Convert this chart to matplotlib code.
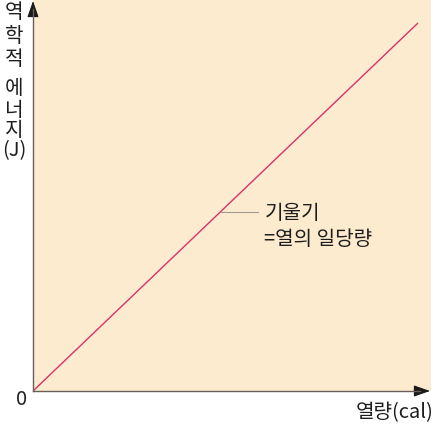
import matplotlib
matplotlib.use("Agg")
import matplotlib.pyplot as plt

plt.rcParams['font.family'] = ['Noto Sans CJK KR', 'DejaVu Sans']

heat = [0, 100]
energy = [0, 100]
y_label_chars = ["역", "학", "적", "에", "너", "지", "(J)"]
x_label = "열량(cal)"
note_lines = ["기울기", "=열의 일당량"]

W, H = 438, 431
fig = plt.figure(figsize=(W/100, H/100), dpi=100)
fig.patch.set_facecolor('white')

def fx(px):
    return px / W

def fy(py):
    return 1 - py / H

ax = fig.add_axes([fx(33), fy(392), fx(431) - fx(33), fy(0) - fy(392)])
ax.set_facecolor('#fdebd0')
for s in ax.spines.values():
    s.set_visible(False)
ax.set_xticks([])
ax.set_yticks([])
ax.set_xlim(0, 100 * (431 - 33) / (418 - 33))
ax.set_ylim(0, 100 * 392 / (392 - 24))
ax.plot(heat, energy, color='#d8326a', lw=1.0, solid_capstyle='butt')

axis_col = '#6a5f56'
head_col = '#1a1a1a'
# axes lines
fig.add_artist(matplotlib.lines.Line2D([fx(33), fx(33)], [fy(392), fy(10)], color=axis_col, lw=1.0))
fig.add_artist(matplotlib.lines.Line2D([fx(33), fx(420)], [fy(392), fy(392)], color=axis_col, lw=1.0))
# arrow heads
fig.add_artist(matplotlib.patches.FancyArrowPatch(
    (fx(33), fy(16)), (fx(33), fy(2)), transform=fig.transFigure,
    arrowstyle='-|>,head_length=1.0,head_width=0.35', color=head_col, lw=0.8,
    shrinkA=0, shrinkB=0, mutation_scale=10))
fig.add_artist(matplotlib.patches.FancyArrowPatch(
    (fx(414), fy(392)), (fx(430), fy(392)), transform=fig.transFigure,
    arrowstyle='-|>,head_length=1.0,head_width=0.35', color=head_col, lw=0.8,
    shrinkA=0, shrinkB=0, mutation_scale=10))

fs = 14.5
txt_col = '#1e1e1e'
# y label, stacked vertically
ys = [12, 37, 60, 88, 110, 131, 151]
for ch, yy in zip(y_label_chars, ys):
    fig.text(fx(14), fy(yy), ch, ha='center', va='center', fontsize=fs, color=txt_col)

fig.text(fx(22), fy(400), "0", ha='center', va='center', fontsize=fs, color=txt_col)
fig.text(fx(434), fy(413), x_label, ha='right', va='center', fontsize=fs, color=txt_col)

# annotation leader line and text
fig.add_artist(matplotlib.lines.Line2D([fx(220), fx(258)], [fy(213), fy(213)],
                                       color='#a09a90', lw=0.8))
fig.text(fx(265), fy(214), note_lines[0], ha='left', va='center', fontsize=fs, color=txt_col)
fig.text(fx(264), fy(240), note_lines[1], ha='left', va='center', fontsize=fs, color=txt_col)

fig.savefig('out.png', dpi=100)
